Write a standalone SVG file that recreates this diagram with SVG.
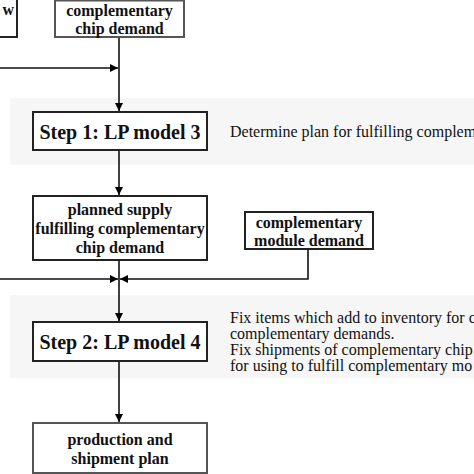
<svg xmlns="http://www.w3.org/2000/svg" width="474" height="474" viewBox="0 0 474 474">
<defs>
<marker id="ah" viewBox="0 0 10 10" refX="10" refY="5" markerWidth="5" markerHeight="5" orient="auto" markerUnits="strokeWidth">
<path d="M0,0 L10,5 L0,10 z" fill="#000"/>
</marker>
<style>
.box{fill:#fff;stroke:#222;stroke-width:2}
.lbl{font-family:"Liberation Serif","Times New Roman",serif;font-weight:bold;font-size:16px;fill:#111;text-anchor:middle}
.step{font-family:"Liberation Serif","Times New Roman",serif;font-weight:bold;font-size:20px;fill:#111;text-anchor:middle}
.desc{font-family:"Liberation Serif","Times New Roman",serif;font-size:16px;fill:#111}
.band{fill:#f6f6f6}
.conn{stroke:#111;stroke-width:1.6;fill:none}
</style>
</defs>
<rect class="band" x="10" y="98" width="464" height="67"/>
<rect class="band" x="10" y="295" width="464" height="83"/>

<g id="connectors">
<line class="conn" x1="119" y1="37" x2="119" y2="111" marker-end="url(#ah)"/>
<line class="conn" x1="0" y1="68" x2="118" y2="68" marker-end="url(#ah)"/>
<line class="conn" x1="119" y1="150" x2="119" y2="195" marker-end="url(#ah)"/>
<line class="conn" x1="119" y1="260" x2="119" y2="321" marker-end="url(#ah)"/>
<line class="conn" x1="0" y1="279" x2="118" y2="279" marker-end="url(#ah)"/>
<polyline class="conn" points="308,249 308,279 120,279" marker-end="url(#ah)"/>
<line class="conn" x1="119" y1="361" x2="119" y2="422" marker-end="url(#ah)"/>
</g>

<g id="node-left">
<rect class="box" x="-20" y="-10" width="37" height="47"/>
<text class="lbl" x="14" y="15" style="text-anchor:end">w</text>
</g>

<g id="node-chip-demand">
<rect class="box" x="55" y="0.5" width="129" height="36.5" style="stroke:#555"/>
<text class="lbl" x="119.5" y="16">complementary</text>
<text class="lbl" x="119.5" y="34">chip demand</text>
</g>

<g id="node-step1">
<rect class="box" x="33" y="112" width="174" height="38"/>
<text class="step" x="120" y="139">Step 1: LP model 3</text>
<text class="desc" x="230" y="137">Determine plan for fulfilling complem</text>
</g>

<g id="node-planned-supply">
<rect class="box" x="33" y="196" width="174" height="64"/>
<text class="lbl" x="120" y="215">planned supply</text>
<text class="lbl" x="120" y="234">fulfilling complementary</text>
<text class="lbl" x="120" y="253">chip demand</text>
</g>

<g id="node-module-demand">
<rect class="box" x="245" y="212" width="128" height="37"/>
<text class="lbl" x="309" y="228">complementary</text>
<text class="lbl" x="309" y="246">module demand</text>
</g>

<g id="node-step2">
<rect class="box" x="33" y="322" width="174" height="39"/>
<text class="step" x="120" y="349">Step 2: LP model 4</text>
<text class="desc" x="230" y="323">Fix items which add to inventory for c</text>
<text class="desc" x="230" y="339">complementary demands.</text>
<text class="desc" x="230" y="355">Fix shipments of complementary chip</text>
<text class="desc" x="230" y="371">for using to fulfill complementary mo</text>
</g>

<g id="node-production">
<rect class="box" x="33" y="423" width="174" height="50" style="stroke:#555"/>
<text class="lbl" x="120" y="445">production and</text>
<text class="lbl" x="120" y="464">shipment plan</text>
</g>
</svg>
